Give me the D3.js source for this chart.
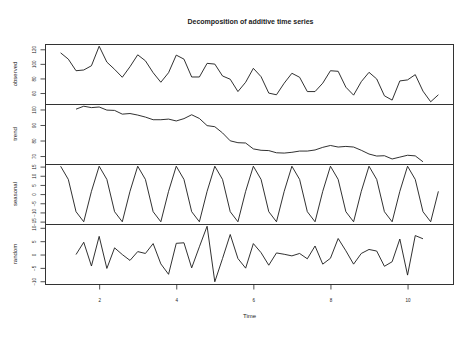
<!DOCTYPE html>
<html>
<head>
<meta charset="utf-8">
<script src="https://cdn.jsdelivr.net/npm/d3@7"></script>
<style>
  body { margin: 0; background: #fff; }
  svg text { font-family: "Liberation Sans", Arial, sans-serif; fill: #222; }
</style>
</head>
<body>
<div id="chart"></div>
<script>
// time index: 1, 1.2, ... 10.8 (frequency 5)
var times = [1.0,1.2,1.4,1.6,1.8,2.0,2.2,2.4,2.6,2.8,3.0,3.2,3.4,3.6,3.8,4.0,4.2,4.4,4.6,4.8,
  5.0,5.2,5.4,5.6,5.8,6.0,6.2,6.4,6.6,6.8,7.0,7.2,7.4,7.6,7.8,8.0,8.2,8.4,8.6,8.8,
  9.0,9.2,9.4,9.6,9.8,10.0,10.2,10.4,10.6,10.8];

var observed = [115.1,106.5,90.6,91.6,97.4,124.2,102.4,92.5,81.6,96.1,
  112.4,104.2,87.9,74.8,87.9,112.0,106.5,82.0,82.0,100.7,
  99.7,83.4,78.9,62.0,74.8,93.9,82.4,59.9,57.6,73.5,
  87.1,81.6,62.0,62.0,73.5,90.6,89.8,68.0,57.1,75.6,
  88.4,79.3,56.2,50.3,76.6,78.0,85.2,62.6,48.0,57.6];

var trend = [null,null,100.2,102.1,101.2,101.6,99.6,99.4,97.0,97.4,
  96.4,95.1,93.4,93.4,93.8,92.6,94.1,96.6,94.2,89.6,
  88.9,84.9,79.8,78.6,78.4,74.6,73.7,73.5,72.1,71.9,
  72.4,73.2,73.2,73.9,75.6,76.8,75.8,76.2,75.8,73.7,
  71.3,70.0,70.2,68.1,69.3,70.5,70.1,66.3,null,null];

var seasonal = [15.2,8.0,-9.6,-15.1,1.5,15.2,8.0,-9.6,-15.1,1.5,
  15.2,8.0,-9.6,-15.1,1.5,15.2,8.0,-9.6,-15.1,1.5,
  15.2,8.0,-9.6,-15.1,1.5,15.2,8.0,-9.6,-15.1,1.5,
  15.2,8.0,-9.6,-15.1,1.5,15.2,8.0,-9.6,-15.1,1.5,
  15.2,8.0,-9.6,-15.1,1.5,15.2,8.0,-9.6,-15.1,1.5];

var random = [null,null,0.0,4.6,-4.3,6.8,-5.2,2.5,0.0,-2.2,
  1.1,0.4,4.1,-3.5,-7.4,4.2,4.4,-5.0,2.9,10.6,
  -10.2,-1.5,7.5,-1.5,-5.1,4.1,0.7,-4.0,0.6,0.1,
  -0.5,0.4,-1.6,3.2,-3.6,-1.4,6.0,1.4,-3.6,0.4,
  1.9,1.3,-4.4,-2.7,5.8,-7.7,7.1,5.9,null,null];

var panelNames = ["observed", "trend", "seasonal", "random"];
var xTicks = [2, 4, 6, 8, 10];

function drawDecomposition() {
  var W = 474, H = 338;
  var plotLeft = 45.5, plotRight = 453.5, plotTop = 44, panelH = 60;

  var svg = d3.select("#chart").append("svg")
    .attr("width", W).attr("height", H);

  // R style 4% padding on x
  var tMin = d3.min(times), tMax = d3.max(times), tPad = (tMax - tMin) * 0.04;
  var x = d3.scaleLinear().domain([tMin - tPad, tMax + tPad]).range([plotLeft, plotRight]);

  var series = [observed, trend, seasonal, random];

  series.forEach(function (vals, k) {
    var y0 = plotTop + k * panelH;
    var ext = d3.extent(vals.filter(function (v) { return v != null; }));
    var pad = (ext[1] - ext[0]) * 0.04;
    var y = d3.scaleLinear().domain([ext[0] - pad, ext[1] + pad]).range([y0 + panelH, y0]);

    var g = svg.append("g");

    var line = d3.line()
      .defined(function (d) { return d.v != null; })
      .x(function (d) { return x(d.t); })
      .y(function (d) { return y(d.v); });

    var pts = times.map(function (t, i) { return { t: t, v: vals[i] }; });

    g.append("path")
      .datum(pts)
      .attr("d", line)
      .attr("fill", "none")
      .attr("stroke", "#1a1a1a")
      .attr("stroke-width", 0.9);

    // y axis, labels parallel to axis like R
    var ticks = d3.ticks(ext[0], ext[1], 5).filter(function (v) {
      return v >= ext[0] - pad && v <= ext[1] + pad;
    });
    var yAxis = g.append("g")
      .attr("transform", "translate(" + plotLeft + ",0)")
      .call(d3.axisLeft(y).tickValues(ticks).tickSize(5).tickFormat(d3.format("d")));
    yAxis.select(".domain").remove();
    yAxis.selectAll(".tick line").attr("stroke", "#222").attr("stroke-width", 0.8);
    yAxis.selectAll(".tick text")
      .attr("transform", "rotate(-90)")
      .attr("x", 0).attr("y", -10).attr("dy", 0)
      .style("text-anchor", "middle")
      .style("font-size", "4.5px")
      .style("font-family", "Liberation Sans, Arial, sans-serif")
      .attr("fill", "#333");

    // panel label
    svg.append("text")
      .attr("transform", "translate(17," + (y0 + panelH / 2) + ") rotate(-90)")
      .attr("text-anchor", "middle")
      .style("font-size", "6px")
      .text(panelNames[k]);

    // panel frame
    svg.append("rect")
      .attr("x", plotLeft).attr("y", y0 + 0.5)
      .attr("width", plotRight - plotLeft).attr("height", panelH)
      .attr("fill", "none")
      .attr("stroke", "#333")
      .attr("stroke-width", 1);
  });

  // x axis under the last panel (ticks hang from the frame)
  var bottom = plotTop + 4 * panelH + 0.5;
  var xAxis = svg.append("g")
    .attr("transform", "translate(0," + bottom + ")")
    .call(d3.axisBottom(x).tickValues(xTicks).tickSize(5).tickPadding(9).tickFormat(d3.format("d")));
  xAxis.select(".domain").remove();
  xAxis.selectAll(".tick line").attr("stroke", "#222").attr("stroke-width", 0.8);
  xAxis.selectAll(".tick text")
    .style("font-size", "4.5px")
    .style("font-family", "Liberation Sans, Arial, sans-serif")
    .attr("fill", "#333");

  svg.append("text")
    .attr("x", (plotLeft + plotRight) / 2).attr("y", 318)
    .attr("text-anchor", "middle")
    .style("font-size", "6px")
    .text("Time");

  svg.append("text")
    .attr("x", (plotLeft + plotRight) / 2 + 1).attr("y", 24)
    .attr("text-anchor", "middle")
    .style("font-size", "7px")
    .style("font-weight", "bold")
    .text("Decomposition of additive time series");
}

drawDecomposition();
</script>
</body>
</html>
